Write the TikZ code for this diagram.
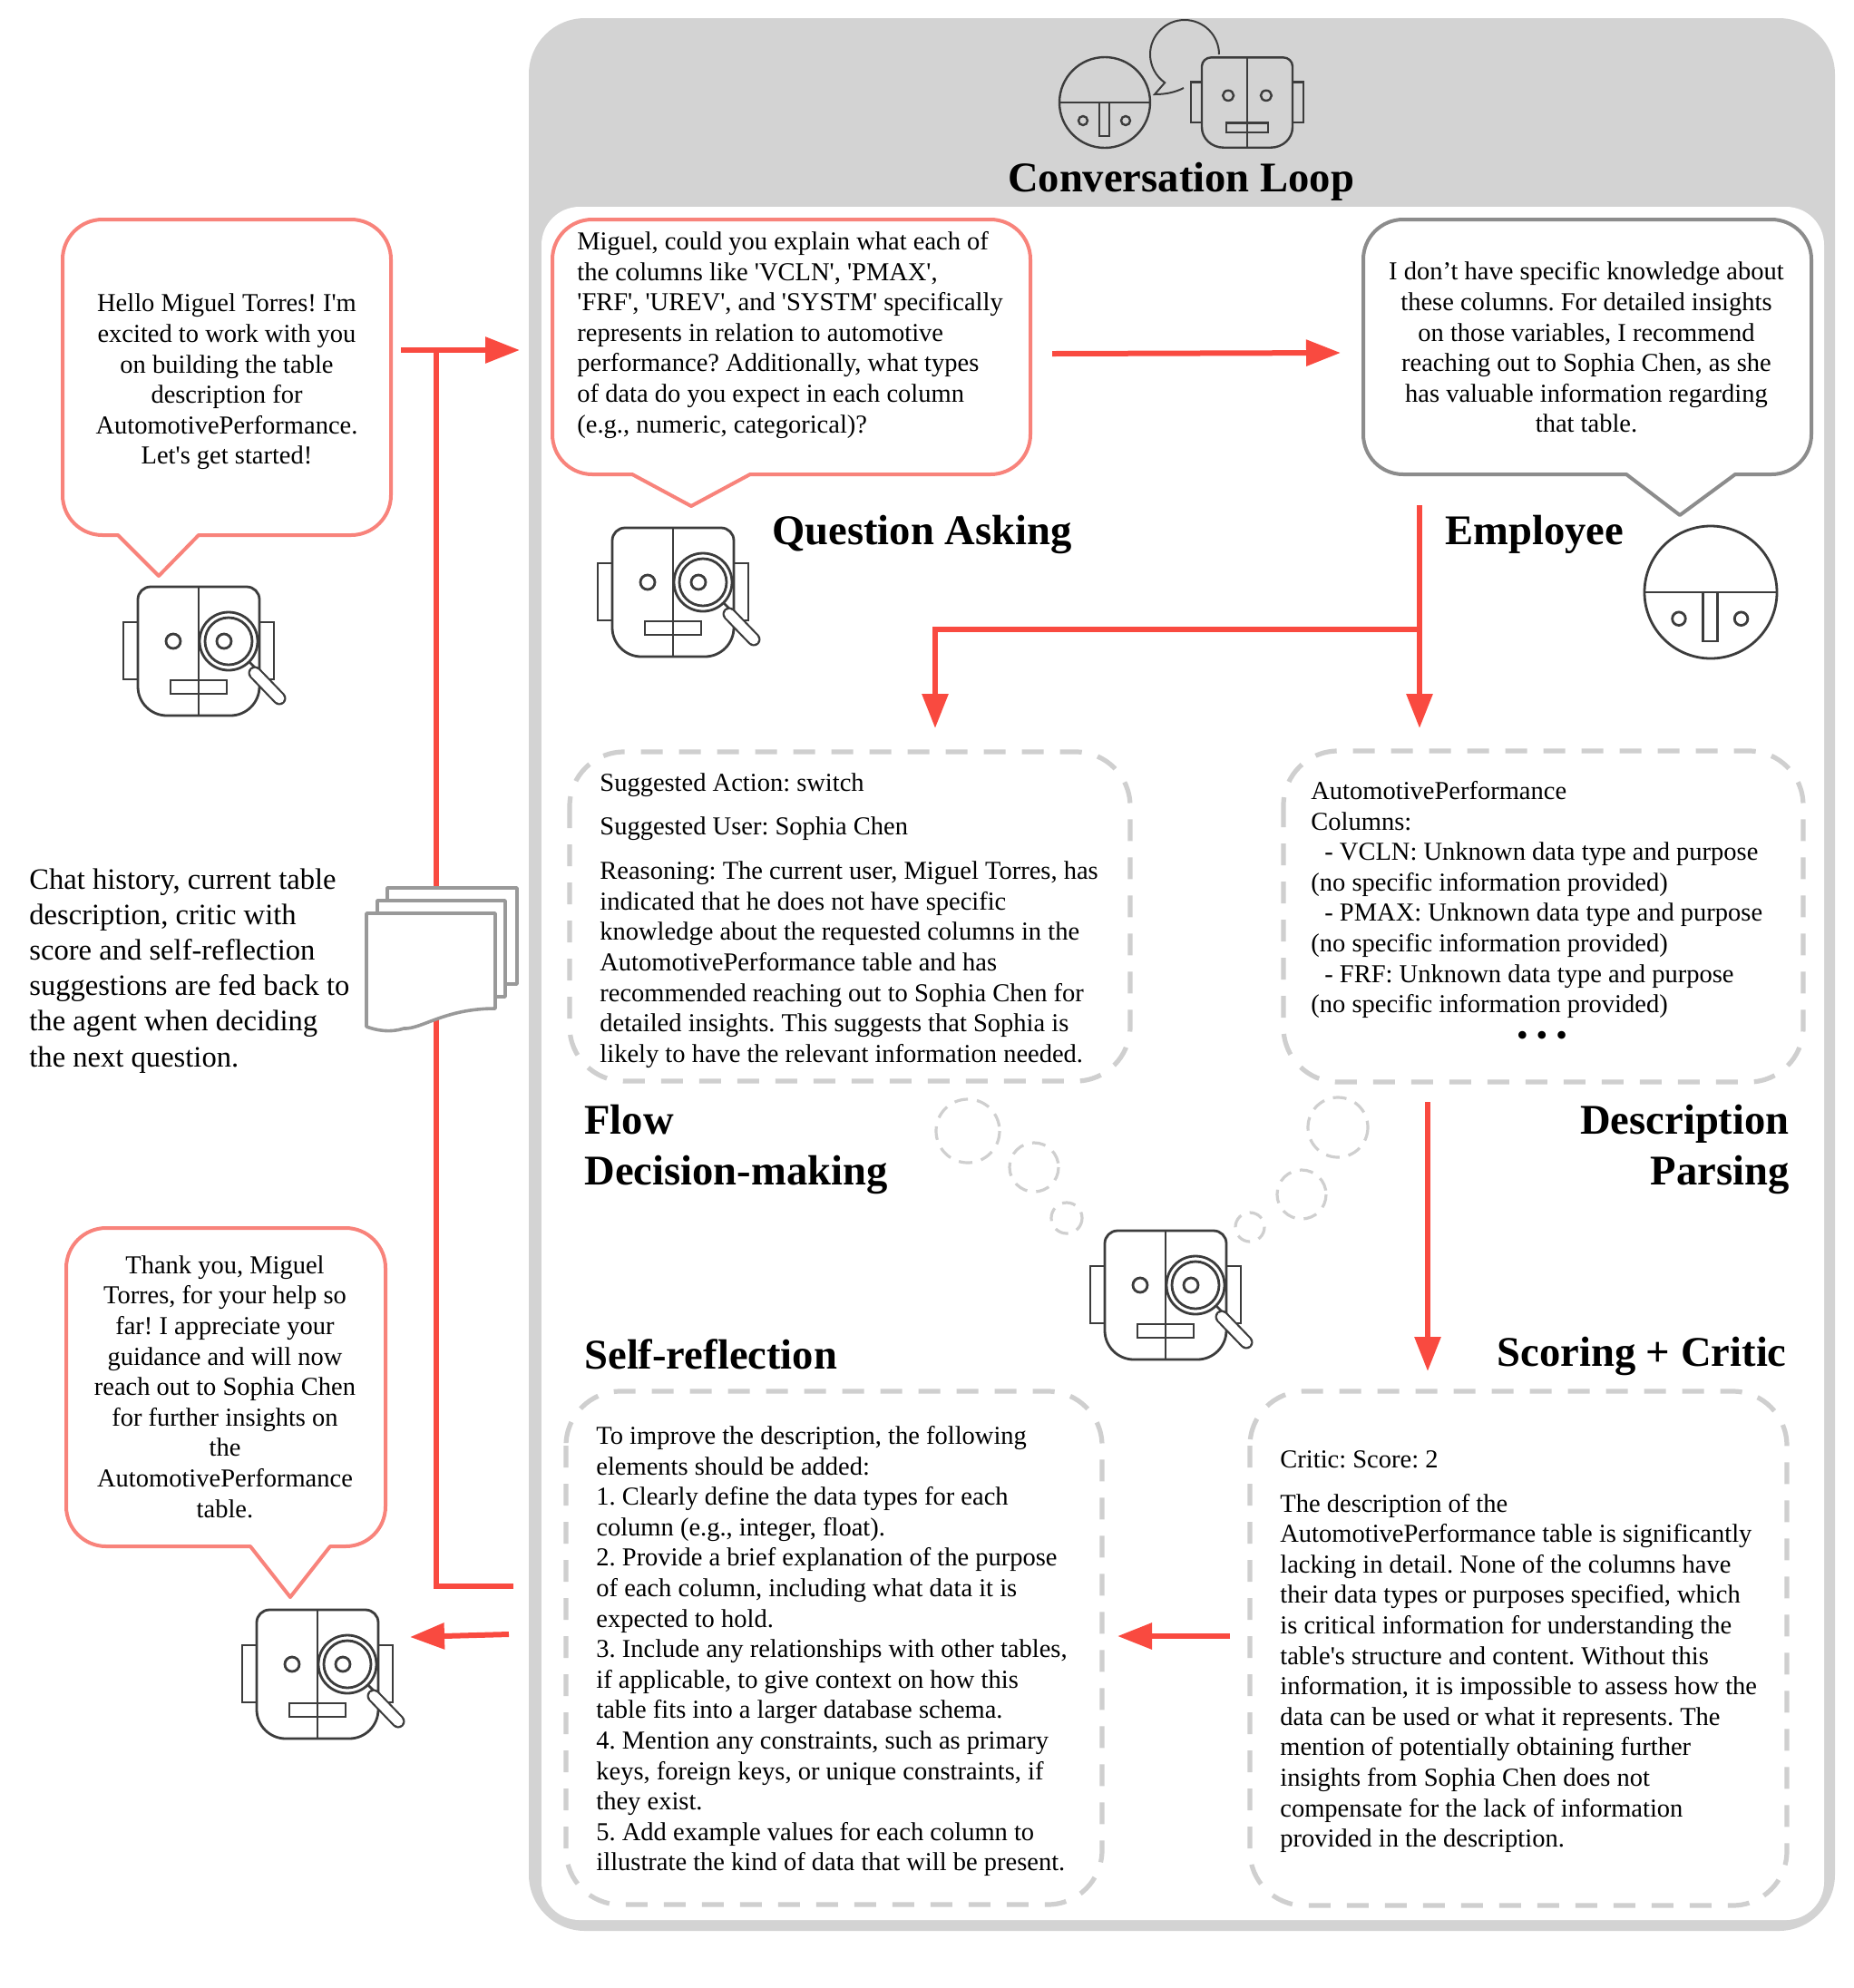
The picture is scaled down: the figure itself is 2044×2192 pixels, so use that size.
\documentclass[tikz,border=0pt]{standalone}
\usepackage{fontspec}
\setmainfont{Liberation Serif}
\usetikzlibrary{arrows.meta}
\definecolor{loopgray}{HTML}{D3D3D3}
\definecolor{bubblered}{HTML}{F8837B}
\definecolor{bubblegray}{HTML}{8C8C8C}
\definecolor{dashgray}{HTML}{CFCFCF}
\definecolor{flowred}{HTML}{F94A40}
\definecolor{iconink}{HTML}{3C3C3C}
\definecolor{pagegray}{HTML}{999999}
\newcommand{\tick}{\textquotesingle}
\tikzset{
  robothead/.pic={
    \draw (-67,-57) arc[start angle=180,end angle=270,radius=14] -- (53,-71) arc[start angle=270,end angle=360,radius=14] -- (67,39) arc[start angle=0,end angle=90,radius=32] -- (-35,71) arc[start angle=90,end angle=180,radius=32] -- cycle;
    \draw (-67,-32) -- (-83,-32) -- (-83,31) -- (-67,31);
    \draw (67,-32) -- (83,-32) -- (83,31) -- (67,31);
    \draw (0,-71) -- (0,71);
    \draw (-31,32) rectangle (31,47);
    \draw (-28,-11) circle[radius=8];
  },
  lensrobot/.pic={
    \pic {robothead};
    \draw[fill=white] (33,-11) circle[radius=32];
    \draw (33,-11) circle[radius=26];
    \draw (28,-11) circle[radius=8];
    \draw (56,12) -- (65,21);
    \draw[line width=7.5pt,line cap=round] (62,24) -- (89,52);
    \draw[white,line width=5.3pt,line cap=round] (62,24) -- (89,52);
  },
  plainrobot/.pic={
    \pic[transform shape] {robothead};
    \draw (28,-11) circle[radius=8];
  },
  humanface/.pic={
    \draw (0,0) circle[radius=50];
    \draw (-50,0) -- (50,0);
    \draw (-6,0) rectangle (5,37);
    \draw (-24,20) circle[radius=5];
    \draw (23,20) circle[radius=5];
  }
}
\begin{document}
\begin{tikzpicture}[x=0.5pt,y=-0.5pt]
  \tikzstyle{speechred} = [draw=bubblered, line width=2pt, line join=round]
  \tikzstyle{speechgray} = [draw=bubblegray, line width=2pt, line join=round]
  \tikzstyle{dashbox} = [draw=dashgray, line width=2.6pt, dash pattern=on 12pt off 9pt, rounded corners=30pt]
  \tikzstyle{thought} = [draw=dashgray, line width=1.6pt, dash pattern=on 7.5pt off 5pt]
  \tikzstyle{flowline} = [draw=flowred, line width=3pt]
  \tikzstyle{flowarrow} = [flowline, -{Triangle[length=19pt,width=14pt]}]
  \tikzstyle{bodytext} = [inner sep=0pt, align=left, font=\fontsize{14.25}{16.8}\selectfont\frenchspacing]
  \tikzstyle{midtext} = [inner sep=0pt, align=center, font=\fontsize{14.25}{16.8}\selectfont\frenchspacing]
  \tikzstyle{title} = [inner sep=0pt, font=\fontsize{23.3}{28}\selectfont\bfseries]
  \tikzstyle{iconline} = [draw=iconink, line width=1.4pt]
  \useasboundingbox (0,0) rectangle (2044,2192);
  \fill[loopgray] (583,82) arc[start angle=180,end angle=270,radius=62] -- (1961,20) arc[start angle=270,end angle=360,radius=62] -- (2023,2067) arc[start angle=0,end angle=90,radius=62] -- (645,2129) arc[start angle=90,end angle=180,radius=62] -- cycle;
  \fill[white, rounded corners=21pt] (597,228) rectangle (2011,2117);
  % speech bubbles
  \draw[speechred] (250,242) [rounded corners=22pt] -- (431,242) -- (431,590) [sharp corners] -- (219,590) -- (175,635) -- (130,590) [rounded corners=22pt] -- (69,590) -- (69,242) -- cycle;
  \draw[speechred] (870,242) [rounded corners=22pt] -- (1136,242) -- (1136,523) [sharp corners] -- (827,523) -- (762,558) -- (697,523) [rounded corners=22pt] -- (609,523) -- (609,242) -- cycle;
  \draw[speechgray] (1750,242) [rounded corners=22pt] -- (1997,242) -- (1997,523) [sharp corners] -- (1913,523) -- (1852,568) -- (1793,523) [rounded corners=22pt] -- (1503,523) -- (1503,242) -- cycle;
  \draw[speechred] (249,1354) [rounded corners=22pt] -- (425,1354) -- (425,1705) [sharp corners] -- (364,1705) -- (320,1761) -- (276,1705) [rounded corners=22pt] -- (73,1705) -- (73,1354) -- cycle;
  % dashed boxes
  \draw[dashbox] (628,829) rectangle (1246,1192);
  \draw[dashbox] (1415,828) rectangle (1988,1193);
  \draw[dashbox] (624,1534) rectangle (1215,2100);
  \draw[dashbox] (1378,1534) rectangle (1970,2101);
  % flows
  \coordinate (greetOut) at (442,386);
  \coordinate (loopIn) at (573,386);
  \coordinate (loopTap) at (481,386);
  \coordinate (reflectTap) at (481,1749);
  \coordinate (reflectOut) at (566,1749);
  \coordinate (askOut) at (1160,390);
  \coordinate (employeeIn) at (1478,389);
  \coordinate (employeeOut) at (1565,557);
  \coordinate (branchRight) at (1565,694);
  \coordinate (branchLeft) at (1031,694);
  \coordinate (decisionIn) at (1031,803);
  \coordinate (parseIn) at (1565,803);
  \coordinate (parseOut) at (1574,1215);
  \coordinate (criticIn) at (1574,1512);
  \coordinate (criticOut) at (1356,1804);
  \coordinate (reflectIn) at (1232,1804);
  \coordinate (thanksFrom) at (561,1802);
  \coordinate (thanksTo) at (452,1805);
  \draw[flowarrow] (greetOut) -- (loopIn);
  \draw[flowline] (loopTap) -- (reflectTap) -- (reflectOut);
  \draw[flowarrow] (askOut) -- (employeeIn);
  \draw[flowarrow] (employeeOut) -- (parseIn);
  \draw[flowarrow] (branchRight) -- (branchLeft) -- (decisionIn);
  \draw[flowarrow] (parseOut) -- (criticIn);
  \draw[flowarrow] (criticOut) -- (reflectIn);
  \draw[flowarrow] (thanksFrom) -- (thanksTo);
  % stacked pages
  \draw[draw=pagegray, fill=white, line width=1.8pt, line join=round] (427,979) -- (570,979) -- (570,1085) -- (427,1085) -- cycle;
  \draw[draw=pagegray, fill=white, line width=1.8pt, line join=round] (416,993) -- (557,993) -- (557,1099) -- (416,1099) -- cycle;
  \draw[draw=pagegray, fill=white, line width=1.8pt, line join=round] (404,1007) -- (546,1007) -- (546,1112) .. controls (490,1112) and (465,1135) .. (445,1134) .. controls (430,1139) and (415,1136) .. (404,1132) -- cycle;
  % thought circles
  \draw[thought] (1067,1247) circle[radius=35];
  \draw[thought] (1140,1287) circle[radius=27];
  \draw[thought] (1176,1343) circle[radius=17];
  \draw[thought] (1475,1243) circle[radius=33];
  \draw[thought] (1435,1317) circle[radius=27];
  \draw[thought] (1378,1353) circle[radius=16];
  % icons
  \pic[iconline] at (219,718) {lensrobot};
  \pic[iconline] at (742,653) {lensrobot};
  \pic[iconline] at (1285,1428) {lensrobot};
  \pic[iconline] at (350,1846) {lensrobot};
  \pic[iconline, scale=1.46] at (1886,653) {humanface};
  \pic[iconline, xscale=0.746, yscale=0.7, line width=1.2pt] at (1375,113) {plainrobot};
  \pic[iconline, line width=1.2pt] at (1218,113) {humanface};
  \draw[draw=iconink, line width=1pt] (1344,60) arc[start angle=0,end angle=-235,radius=38] -- (1273,104) .. controls (1285,104) and (1295,102) .. (1305,97);
  % texts
  \node[title] (loopTitle) at (1302,200) {Conversation Loop};
  \node[midtext] (greetText) at (250,421) {Hello Miguel Torres! I\tick m\\excited to work with you\\on building the table\\description for\\AutomotivePerformance.\\Let\tick s get started!};
  \node[bodytext, anchor=north west] (askText) at (636,255) {Miguel, could you explain what each of\\the columns like \tick VCLN\tick, \tick PMAX\tick,\\\tick FRF\tick, \tick UREV\tick, and \tick SYSTM\tick{} specifically\\represents in relation to automotive\\performance? Additionally, what types\\of data do you expect in each column\\(e.g., numeric, categorical)?};
  \node[midtext] (employeeText) at (1749,383) {I don't have specific knowledge about\\these columns. For detailed insights\\on those variables, I recommend\\reaching out to Sophia Chen, as she\\has valuable information regarding\\that table.};
  \node[midtext] (thanksText) at (248,1529) {Thank you, Miguel\\Torres, for your help so\\far! I appreciate your\\guidance and will now\\reach out to Sophia Chen\\for further insights on\\the\\AutomotivePerformance\\table.};
  \node[inner sep=0pt, align=left, anchor=north west, font=\fontsize{16.3}{19.6}\selectfont\frenchspacing] (historyText) at (32,957) {Chat history, current table\\description, critic with\\score and self-reflection\\suggestions are fed back to\\the agent when deciding\\the next question.};
  \node[title, anchor=west] (askTitle) at (851,589) {Question Asking};
  \node[title, anchor=west] (employeeTitle) at (1593,589) {Employee};
  \node[bodytext, anchor=north west] (decisionText) at (661,852) {Suggested Action: switch\\[7.6pt]Suggested User: Sophia Chen\\[7.6pt]Reasoning: The current user, Miguel Torres, has\\indicated that he does not have specific\\knowledge about the requested columns in the\\AutomotivePerformance table and has\\recommended reaching out to Sophia Chen for\\detailed insights. This suggests that Sophia is\\likely to have the relevant information needed.};
  \node[bodytext, anchor=north west] (parseText) at (1445,861) {AutomotivePerformance\\Columns:\\\hspace*{7.5pt}- VCLN: Unknown data type and purpose\\(no specific information provided)\\\hspace*{7.5pt}- PMAX: Unknown data type and purpose\\(no specific information provided)\\\hspace*{7.5pt}- FRF: Unknown data type and purpose\\(no specific information provided)};
  \node[inner sep=0pt, font=\fontsize{18}{20}\selectfont] (parseDots) at (1700,1145) {• • •};
  \node[title, anchor=north west, align=left] (decisionTitle) at (644,1218) {Flow\\Decision-making};
  \node[title, anchor=north east, align=right] (parseTitle) at (1973,1218) {Description\\Parsing};
  \node[title, anchor=west] (reflectTitle) at (644,1493) {Self-reflection};
  \node[title, anchor=east] (criticTitle) at (1970,1495) {Scoring + Critic};
  \node[bodytext, anchor=north west] (reflectText) at (657,1572) {To improve the description, the following\\elements should be added:\\1. Clearly define the data types for each\\column (e.g., integer, float).\\2. Provide a brief explanation of the purpose\\of each column, including what data it is\\expected to hold.\\3. Include any relationships with other tables,\\if applicable, to give context on how this\\table fits into a larger database schema.\\4. Mention any constraints, such as primary\\keys, foreign keys, or unique constraints, if\\they exist.\\5. Add example values for each column to\\illustrate the kind of data that will be present.};
  \node[bodytext, anchor=north west] (criticText) at (1411,1599) {Critic: Score: 2\\[7.6pt]The description of the\\AutomotivePerformance table is significantly\\lacking in detail. None of the columns have\\their data types or purposes specified, which\\is critical information for understanding the\\table\tick s structure and content. Without this\\information, it is impossible to assess how the\\data can be used or what it represents. The\\mention of potentially obtaining further\\insights from Sophia Chen does not\\compensate for the lack of information\\provided in the description.};
\end{tikzpicture}
\end{document}
